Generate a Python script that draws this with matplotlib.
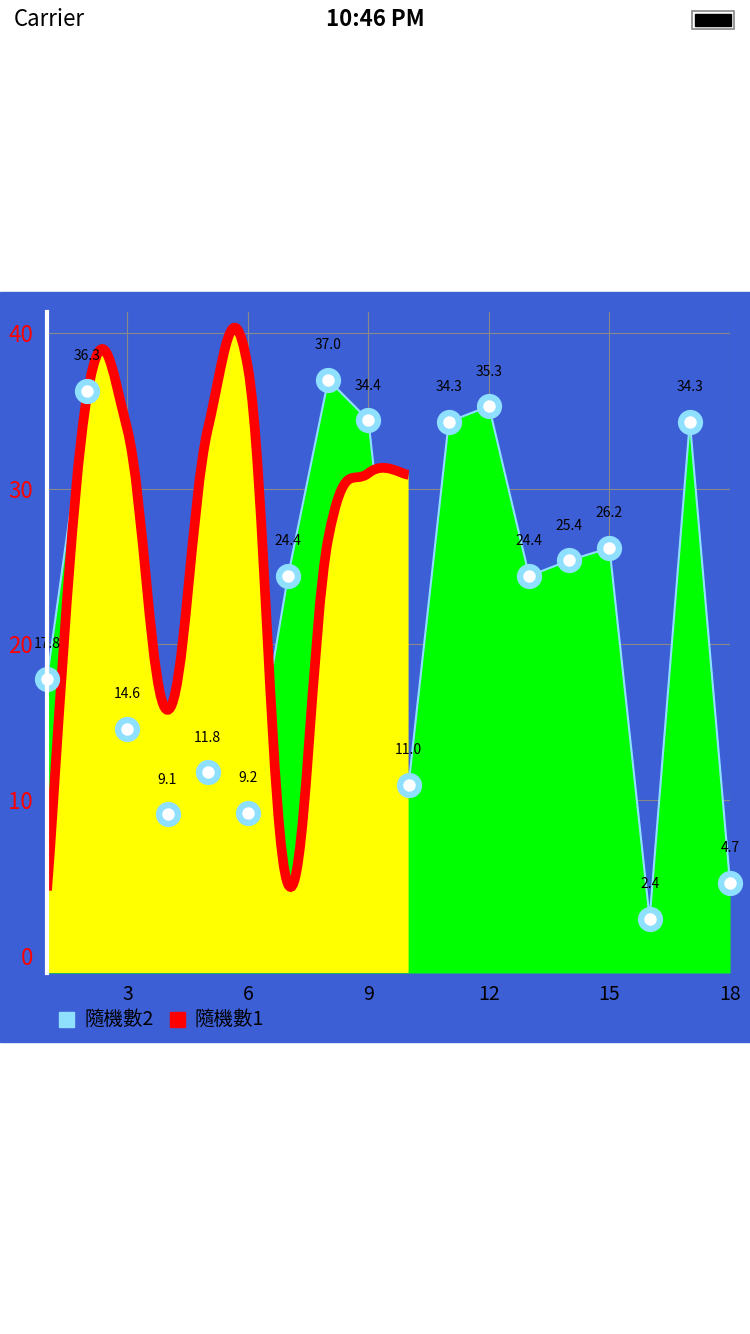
import matplotlib
matplotlib.use("Agg")
import matplotlib.pyplot as plt
from matplotlib.path import Path
from matplotlib.patches import PathPatch, Rectangle
import numpy as np

plt.rcParams['font.family'] = ['Noto Sans CJK TC', 'DejaVu Sans']

x2 = list(range(1, 19))
v2 = [17.8, 36.3, 14.6, 9.1, 11.8, 9.2, 24.4, 37.0, 34.4, 11.0, 34.3, 35.3, 24.4, 25.4, 26.2, 2.4, 34.3, 4.7]
x1 = list(range(1, 11))
v1 = [4.2, 36.0, 33.8, 15.8, 33.8, 37.8, 4.6, 26.8, 31.0, 30.9]
xticks = [3, 6, 9, 12, 15, 18]
yticks = [0, 10, 20, 30, 40]
legend_labels = ["隨機數2", "隨機數1"]

W, H = 750, 1334
fig = plt.figure(figsize=(7.5, 13.34), dpi=100)
fig.patches.append(Rectangle((0, 1 - 1042 / H), 1, 750 / H, transform=fig.transFigure, color='#3d5fd6', zorder=-5))
fig.text(14 / W, 1 - 20 / H, "Carrier", fontsize=16, va='center')
fig.text(375 / W, 1 - 20 / H, "10:46 PM", fontsize=16, va='center', ha='center', weight='bold')
fig.patches.append(Rectangle((692 / W, 1 - 29 / H), 42 / W, 18 / H, transform=fig.transFigure, fill=False, ec='#888', lw=1.2, zorder=-5))
fig.patches.append(Rectangle((695 / W, 1 - 26 / H), 36 / W, 12 / H, transform=fig.transFigure, color='black', zorder=-5))

ax = fig.add_axes([47 / W, 1 - 973 / H, 683 / W, 661 / H])
ax.set_zorder(1)
ax.set_facecolor('none')
ax.set_xlim(1, 18)
ax.set_ylim(-1.1, 41.35)
for s in ['top', 'right', 'bottom']:
    ax.spines[s].set_visible(False)
ax.spines['left'].set_color('white')
ax.spines['left'].set_linewidth(3)
ax.spines['left'].set_zorder(8)
ax.set_xticks(xticks)
ax.set_yticks(yticks)
ax.tick_params(length=0)
ax.tick_params(axis='x', labelsize=14, labelcolor='black', pad=8)
ax.tick_params(axis='y', labelsize=16, labelcolor='red', pad=10)
ax.grid(True, color='#888888', lw=0.8, zorder=0)
ax.set_axisbelow(True)

base = -1.1
ax.fill_between(x2, v2, base, color='#00ff00', zorder=1, lw=0)
ax.plot(x2, v2, color='#8fe0ff', lw=1.5, zorder=2)

def cubic(xs, ys, k=0.2):
    verts = [(xs[0], ys[0])]
    codes = [Path.MOVETO]
    n = len(xs)
    for j in range(1, n):
        pp = max(j - 2, 0); p = j - 1; nx = min(j + 1, n - 1)
        pdx = (xs[j] - xs[pp]) * k; pdy = (ys[j] - ys[pp]) * k
        cdx = (xs[nx] - xs[p]) * k; cdy = (ys[nx] - ys[p]) * k
        verts += [(xs[p] + pdx, ys[p] + pdy), (xs[j] - cdx, ys[j] - cdy), (xs[j], ys[j])]
        codes += [Path.CURVE4] * 3
    return verts, codes

verts, codes = cubic(x1, v1)
fv = verts + [(x1[-1], base), (x1[0], base), (x1[0], v1[0])]
fc = codes + [Path.LINETO, Path.LINETO, Path.CLOSEPOLY]
ax.add_patch(PathPatch(Path(fv, fc), fc='#ffff00', ec='none', zorder=3))
ax.add_patch(PathPatch(Path(verts, codes), fc='none', ec='red', lw=7, zorder=4, capstyle='butt'))

ax.scatter(x2, v2, s=330, color='#8fe0ff', zorder=5, lw=0, clip_on=False)
ax.scatter(x2, v2, s=80, color='white', zorder=6, lw=0, clip_on=False)
for xi, vi in zip(x2, v2):
    ax.annotate(f"{vi:.1f}", (xi, vi), xytext=(0, 22), textcoords='offset points',
                ha='center', fontsize=10, zorder=7, annotation_clip=False)

fig.patches.append(Rectangle((59 / W, 1 - 1027 / H), 15 / W, 15 / H, transform=fig.transFigure, color='#8fe0ff'))
fig.text(84 / W, 1 - 1019 / H, legend_labels[0], fontsize=14, va='center')
fig.patches.append(Rectangle((170 / W, 1 - 1027 / H), 15 / W, 15 / H, transform=fig.transFigure, color='red'))
fig.text(195 / W, 1 - 1019 / H, legend_labels[1], fontsize=14, va='center')

fig.savefig("out.png", dpi=100)
